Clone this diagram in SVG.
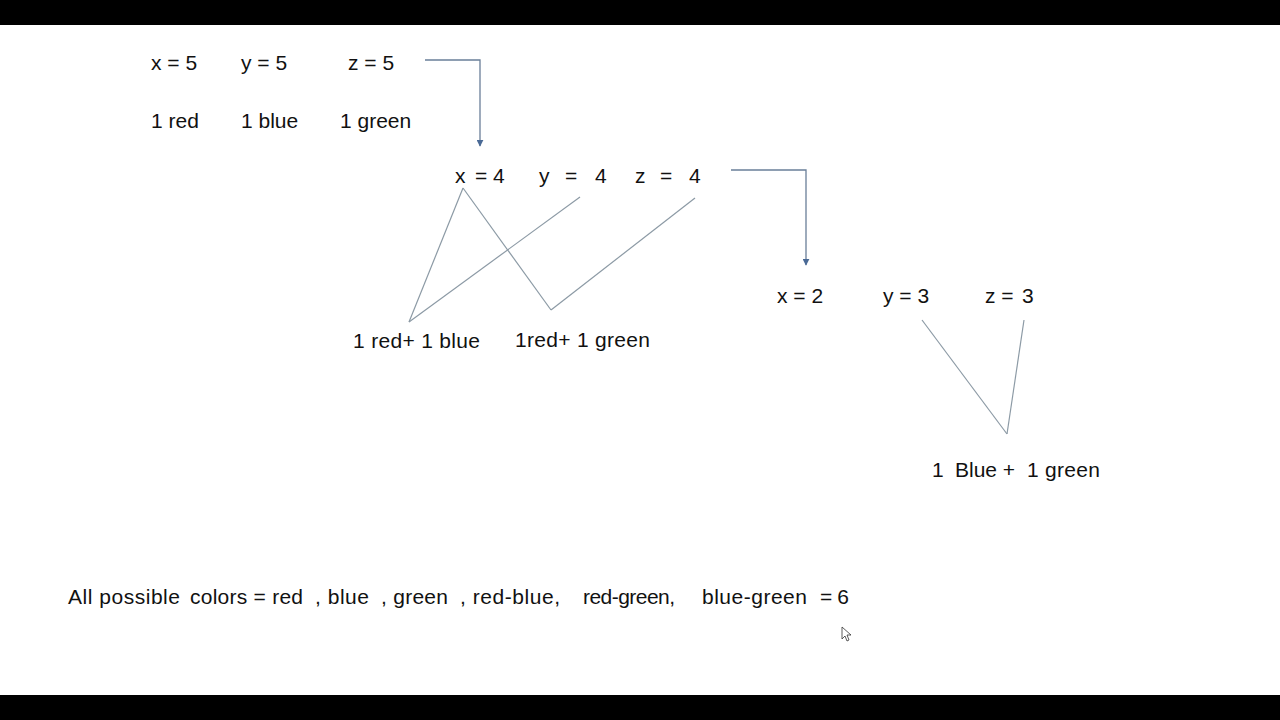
<svg xmlns="http://www.w3.org/2000/svg" width="1280" height="720" viewBox="0 0 1280 720">
<defs>
<style>
.t{font-family:"Liberation Sans",Arial,sans-serif;font-size:21px;fill:#111;}
.g{fill:none;stroke:#8c9aa5;stroke-width:1.2;}
.c{fill:none;stroke:#6a7f99;stroke-width:1.3;}
</style>
<marker id="ah" viewBox="0 0 10 10" refX="9" refY="5" markerWidth="7" markerHeight="7" orient="auto" markerUnits="userSpaceOnUse">
<path d="M0,0 L10,5 L0,10 z" fill="#4a6a96"/>
</marker>
</defs>
<rect x="0" y="0" width="1280" height="720" fill="#fff"/>
<rect x="0" y="0" width="1280" height="25" fill="#000"/>
<rect x="0" y="695" width="1280" height="25" fill="#000"/>

<g id="connectors">
<path class="c" d="M425,60 H480 V146" marker-end="url(#ah)"/>
<path class="c" d="M731,170 H806 V265" marker-end="url(#ah)"/>
<path class="g" d="M463,188 L409,322"/>
<path class="g" d="M463,188 L551,310"/>
<path class="g" d="M580,197 L409,322"/>
<path class="g" d="M695,198 L551,310"/>
<path class="g" d="M922,320 L1007,434"/>
<path class="g" d="M1024,320 L1007,434"/>
</g>

<g id="row1">
<text class="t" x="151" y="70">x = 5</text>
<text class="t" x="241" y="70">y = 5</text>
<text class="t" x="348" y="70">z = 5</text>
<text class="t" x="151" y="128">1 red</text>
<text class="t" x="241" y="128">1 blue</text>
<text class="t" x="340" y="128">1 green</text>
</g>

<g id="row2">
<text class="t" x="455" y="183">x</text>
<text class="t" x="475" y="183">= 4</text>
<text class="t" x="539" y="183">y</text>
<text class="t" x="565" y="183">=</text>
<text class="t" x="595" y="183">4</text>
<text class="t" x="635" y="183">z</text>
<text class="t" x="660" y="183">=</text>
<text class="t" x="689" y="183">4</text>
</g>

<g id="pairs1">
<text class="t" x="353" y="348" textLength="127">1 red+ 1 blue</text>
<text class="t" x="515" y="347" textLength="135">1red+ 1 green</text>
</g>

<g id="row3">
<text class="t" x="777" y="303">x = 2</text>
<text class="t" x="883" y="303">y = 3</text>
<text class="t" x="985" y="303">z =</text>
<text class="t" x="1022" y="303">3</text>
</g>

<g id="pairs2">
<text class="t" x="932" y="477">1</text>
<text class="t" x="955" y="477">Blue +</text>
<text class="t" x="1027" y="477" textLength="73">1 green</text>
</g>

<g id="summary">
<text class="t" x="68" y="604" textLength="112">All possible</text>
<text class="t" x="190" y="604" textLength="113">colors = red</text>
<text class="t" x="315" y="604" textLength="54">, blue</text>
<text class="t" x="381" y="604" textLength="67">, green</text>
<text class="t" x="460" y="604" textLength="100">, red-blue,</text>
<text class="t" x="583" y="604" textLength="92">red-green,</text>
<text class="t" x="702" y="604" textLength="105">blue-green</text>
<text class="t" x="820" y="604" textLength="29">= 6</text>
</g>

<path d="M842,627 L842,639 L845,636 L847,641 L849,640 L847,635 L851,635 Z" fill="#fff" stroke="#333" stroke-width="0.8"/>
</svg>
